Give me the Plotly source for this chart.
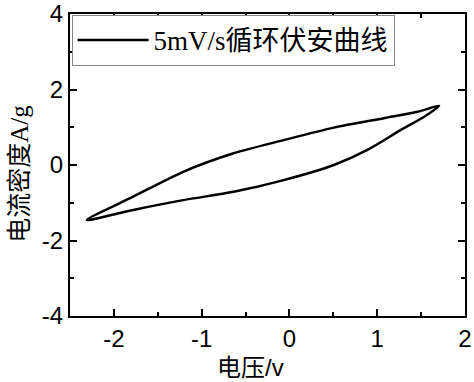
import plotly.graph_objects as go

# Cyclic voltammetry loop (5 mV/s)
upper_v = [-2.31, -1.78, -1.21, -0.636, -0.065, 0.506, 1.078, 1.46, 1.706]
upper_i = [-1.46, -0.84, -0.18, 0.31, 0.66, 0.99, 1.24, 1.41, 1.57]
lower_v = [1.706, 1.535, 1.27, 0.888, 0.506, -0.065, -0.636, -1.21, -1.78, -2.31]
lower_i = [1.57, 1.28, 0.93, 0.40, 0.0, -0.40, -0.71, -0.93, -1.19, -1.46]

x_ticks = [-2, -1, 0, 1, 2]
y_ticks = [-4, -2, 0, 2, 4]

series_name = "5mV/s循环伏安曲线"
x_title = "电压/v"
y_title = "电流密度A/g"

fig = go.Figure()
fig.add_trace(go.Scatter(
    x=upper_v + lower_v[1:],
    y=upper_i + lower_i[1:],
    mode="lines",
    line=dict(color="black", width=2.5, shape="spline", smoothing=0.8),
    name=series_name,
))

axis_common = dict(
    showgrid=False, zeroline=False, showline=True, linecolor="black", linewidth=2,
    mirror="ticks", ticks="inside", ticklen=7, tickwidth=2, tickcolor="black",
    tickfont=dict(family="Liberation Sans, Arial, sans-serif", size=24, color="black"),
    automargin=False, ticklabeloverflow="allow",
)

fig.update_xaxes(
    range=[-2.5, 2], tickvals=x_ticks, ticktext=[str(v) for v in x_ticks],
    minor=dict(dtick=0.5, tick0=0, ticks="inside", ticklen=4, tickwidth=1.5, tickcolor="black"),
    **axis_common,
)
fig.update_yaxes(
    range=[-4, 4], tickvals=y_ticks, ticktext=[str(v) for v in y_ticks],
    minor=dict(dtick=1, tick0=0, ticks="inside", ticklen=4, tickwidth=1.5, tickcolor="black"),
    **axis_common,
)

fig.update_layout(
    width=474, height=382,
    margin=dict(l=70, r=9, t=14, b=66),
    plot_bgcolor="white", paper_bgcolor="white",
    showlegend=True,
    legend=dict(
        x=0.004, y=0.997, xanchor="left", yanchor="top",
        bordercolor="#888888", borderwidth=1, bgcolor="white",
        font=dict(family="Liberation Serif, Noto Sans CJK SC", size=27, color="black"),
        itemwidth=71,
    ),
    annotations=[
        dict(text=x_title, xref="paper", yref="paper", x=0.456, y=-0.172,
             xanchor="center", yanchor="middle", showarrow=False,
             font=dict(family="Liberation Sans, Noto Sans CJK SC", size=24, color="black")),
        dict(text=y_title, xref="paper", yref="paper", x=-0.13, y=0.47,
             xanchor="center", yanchor="middle", showarrow=False, textangle=-90,
             font=dict(family="Liberation Serif, Noto Sans CJK SC", size=25, color="black")),
    ],
)

# remove the page's default body margin so the figure fills the window
fig.write_html(
    "out.html",
    config={"displayModeBar": False},
    post_script="document.body.style.margin='0';",
)
